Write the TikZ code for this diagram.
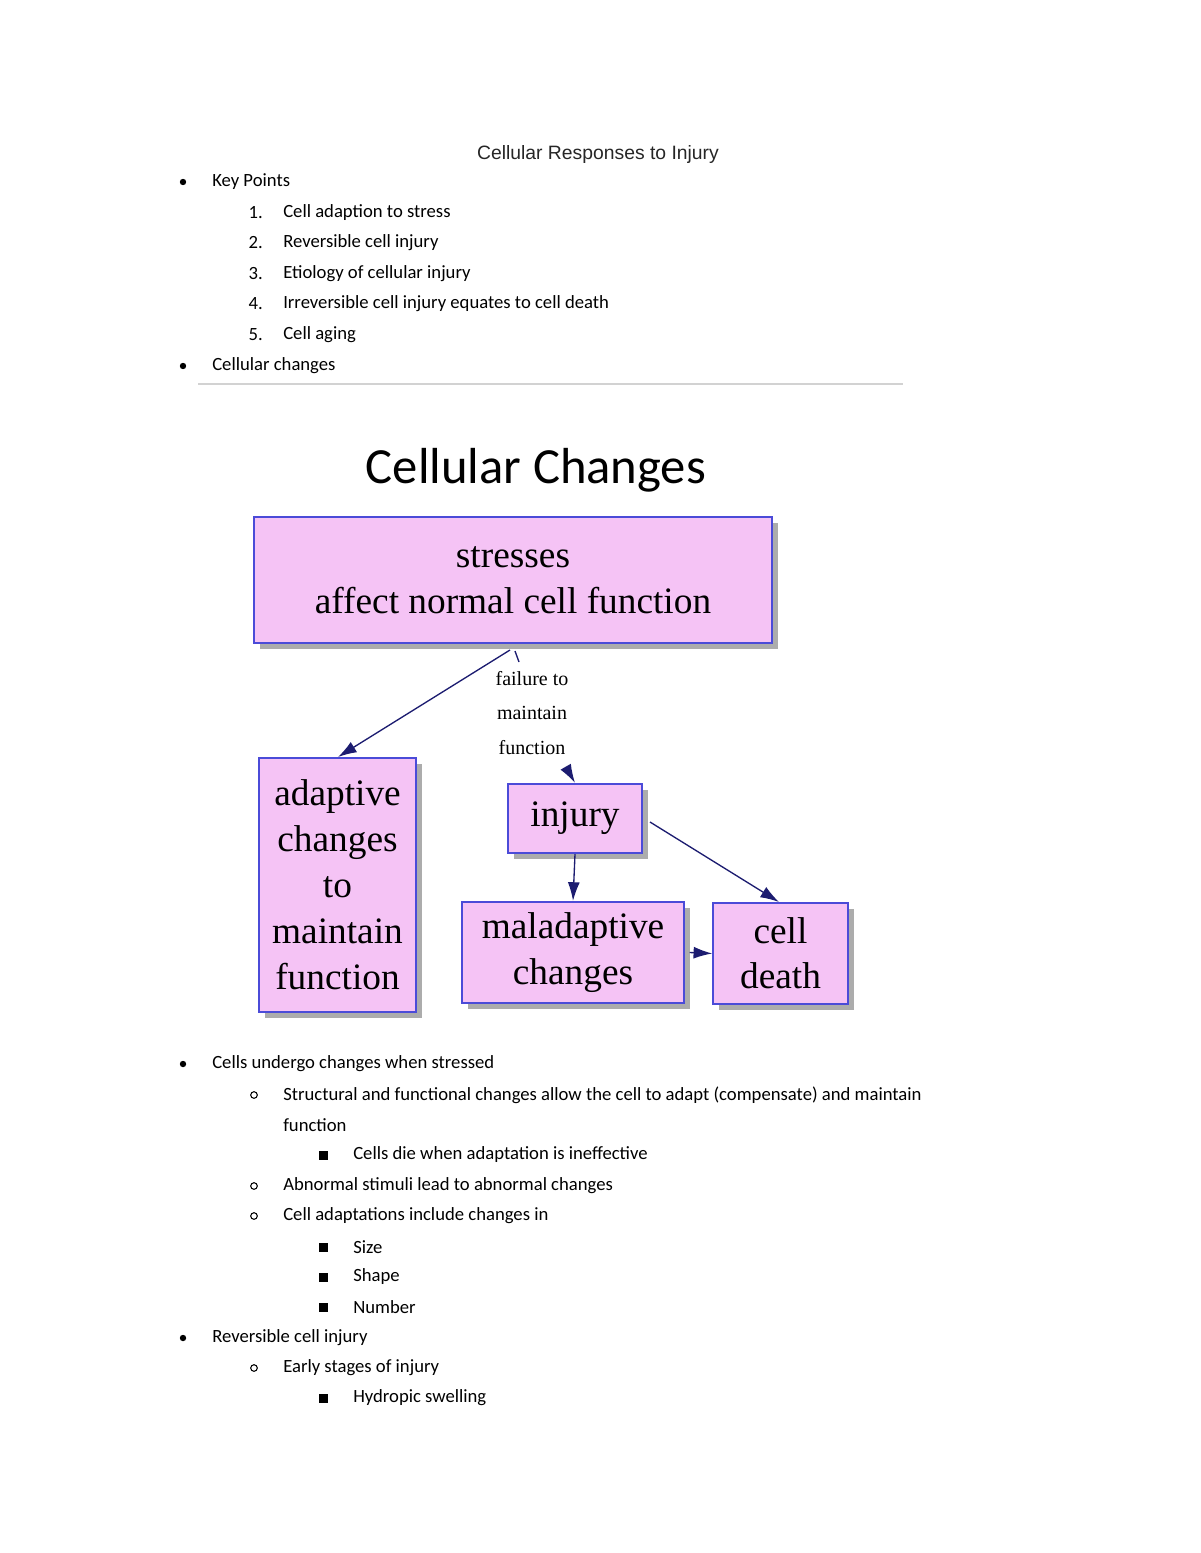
\documentclass[tikz,border=0pt]{standalone}
\usepackage{fontspec}
\setmainfont{Carlito}
\newfontfamily\serifd{Liberation Serif}
\newfontfamily\titlef{Liberation Sans}
\usetikzlibrary{arrows.meta}
\definecolor{boxfill}{HTML}{F5C3F5}
\definecolor{boxline}{HTML}{4B4BD8}
\definecolor{arr}{HTML}{1C1C70}
\tikzset{
 body/.style={anchor=west,inner sep=0pt,font=\fontsize{14}{16}\selectfont},
 bx/.style={draw=boxline,line width=1.4pt,fill=boxfill,inner sep=0pt,align=center,
   font=\serifd\fontsize{28}{34}\selectfont,
   append after command={}},
 sh/.style={fill=gray!70},
 con/.style={draw=arr,line width=1pt,-{Latex[length=14pt,width=9pt]}},
}
\begin{document}
\begin{tikzpicture}[x=0.75pt,y=-0.75pt]
\useasboundingbox (0,0) rectangle (1200,1553);
\node[anchor=center,inner sep=0pt,font=\titlef\fontsize{14.5}{16}\selectfont,text=black!85] (t) at (598,154) {Cellular Responses to Injury};
% bullets
\foreach \y/\n/\t in {182/b1/Key Points,366/b2/Cellular changes,1064/b3/Cells undergo changes when stressed,1338/b4/Reversible cell injury}{
 \node[body] (\n) at (212,\y) {\t};
 \fill (183,\y) circle (3.2);
}
\foreach \y/\k/\t in {213/1/Cell adaption to stress,243/2/Reversible cell injury,274/3/Etiology of cellular injury,304/4/Irreversible cell injury equates to cell death,335/5/Cell aging}{
 \node[body,anchor=east] (n\k) at (263,\y) {\k.};
 \node[body] (k\k) at (283,\y) {\t};
}
\foreach \y/\n/\t in {1095/o1/Structural and functional changes allow the cell to adapt (compensate) and maintain,1186/o2/Abnormal stimuli lead to abnormal changes,1216/o3/Cell adaptations include changes in,1368/o4/Early stages of injury}{
 \node[body] (\n) at (283,\y) {\t};
 \draw[line width=0.8pt] (254,\y) circle (3.3);
}
\node[body] (o1b) at (283,1125) {function};
\foreach \y/\n/\t in {1155/s1/Cells die when adaptation is ineffective,1247/s2/Size,1277/s3/Shape,1307/s4/Number,1398/s5/Hydropic swelling}{
 \node[body] (\n) at (353,\y) {\t};
 \fill (319,\y-4.5) rectangle (328,\y+4.5);
}
\draw[gray!35,line width=0.8pt] (198,384) -- (903,384);
% diagram
\node[font=\fontsize{38}{44}\selectfont,inner sep=0pt] (ct) at (536,470) {Cellular Changes};
\foreach \n/\x/\y/\X/\Y in {st/254/517/772/643,ad/259/758/416/1012,in/508/784/642/853,ma/462/902/684/1003,cd/713/903/848/1004}{
 \fill[gray!65] (\x+6,\y+6) rectangle (\X+6,\Y+6);
}
\node[bx,minimum width=389pt,minimum height=94pt] (st) at (513,580) {stresses\\affect normal cell function};
\node[bx,minimum width=118pt,minimum height=190pt,font=\serifd\fontsize{28}{34.5}\selectfont] (ad) at (337.5,885) {adaptive\\changes\\to\\maintain\\function};
\node[bx,minimum width=100pt,minimum height=52pt] (in) at (575,818.5) {injury};
\node[bx,minimum width=166pt,minimum height=76pt] (ma) at (573,952.5) {maladaptive\\changes};
\node[bx,minimum width=101pt,minimum height=76pt] (cd) at (780.5,953.5) {cell\\death};
\node[font=\serifd\fontsize{15}{26}\selectfont,align=center,inner sep=0pt] (fl) at (532,713) {failure to\\maintain\\function};
\coordinate (s1) at (510,650);
\coordinate (s2) at (515,651);
\draw[con] (s1) -- (338,757);
\draw[draw=arr,line width=1pt] (s2) -- (519,662);
\draw[con] (567,769) -- (in.north);
\draw[con] (in.south) -- (ma.north);
\draw[con] (650,822) -- (779,902);
\draw[con] (ma.east) ++(5,0) -- (cd.west);
\end{tikzpicture}
\end{document}
